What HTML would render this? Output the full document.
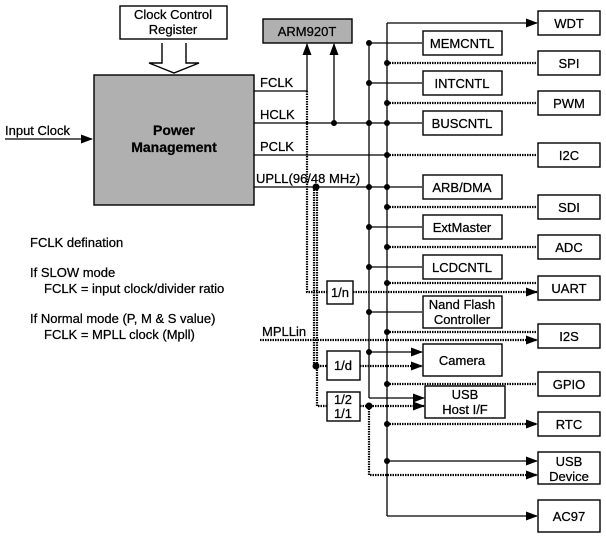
<!DOCTYPE html>
<html><head><style>body{margin:0;background:#fff}svg{display:block}text{font-family:"Liberation Sans",Arial,sans-serif;font-size:13px;fill:#000;stroke:#000;stroke-width:0.25}</style></head><body>
<svg width="606" height="541" viewBox="0 0 606 541">
<defs><marker id="a" markerWidth="12" markerHeight="10" refX="11" refY="5" orient="auto" markerUnits="userSpaceOnUse"><path d="M0,0.5L12,5L0,9.5z" fill="#000"/></marker></defs>
<g stroke="#000" fill="#fff" stroke-width="1.4">
<rect x="120" y="6" width="107" height="33"/>
<rect x="94" y="75" width="160" height="130" fill="#b0b0b0"/>
<rect x="263" y="19" width="89" height="24" fill="#b0b0b0"/>
<path d="M162,43V63H149L174,73L199,63H186V43" fill="#fff"/>
<rect x="538" y="11" width="62" height="24"/><rect x="538" y="51" width="62" height="24"/><rect x="538" y="91" width="62" height="24"/><rect x="538" y="143" width="62" height="24"/><rect x="538" y="195" width="62" height="24"/><rect x="538" y="235" width="62" height="24"/><rect x="538" y="276" width="62" height="24"/><rect x="538" y="324" width="62" height="24"/><rect x="538" y="372" width="62" height="24"/><rect x="538" y="412" width="62" height="24"/><rect x="538" y="452" width="62" height="32"/><rect x="538" y="500" width="62" height="32"/>
<rect x="423" y="31" width="79" height="24"/><rect x="423" y="71" width="79" height="24"/><rect x="423" y="111" width="79" height="24"/><rect x="423" y="175" width="79" height="24"/><rect x="423" y="215" width="79" height="24"/><rect x="423" y="255" width="79" height="24"/><rect x="423" y="296" width="79" height="32"/><rect x="423" y="344" width="79" height="32"/><rect x="425" y="386" width="80" height="32"/>
<rect x="327" y="281" width="26" height="23"/><rect x="327" y="351" width="33" height="29"/><rect x="327" y="392" width="33" height="29"/>
</g>
<g stroke="#000" stroke-width="1.3" fill="none">
<path d="M5,139H92" marker-end="url(#a)"/>
<path d="M254,91H307M254,123H369M254,155H387M254,187H369"/>
<path d="M307,91V44" marker-end="url(#a)"/><path d="M334,123V44" marker-end="url(#a)"/>
<path d="M369,43V398"/><path d="M387,23V516"/>
<path d="M387,23H537" marker-end="url(#a)"/><path d="M387,516H537" marker-end="url(#a)"/><path d="M387,461H537" marker-end="url(#a)"/>
<path d="M369,43H422M369,83H422M369,123H422M369,187H422M369,227H422M369,267H422M369,312H422M369,352H422" marker-end="url(#a)"/>
<path d="M369,398H424" marker-end="url(#a)"/>
</g>
<g stroke="#000" stroke-width="2.2" stroke-dasharray="1.5 1" fill="none">
<path d="M387,63H537M387,103H537M387,155H537M387,207H537M387,247H537M387,283H537M387,332H537M387,384H537M387,424H537" marker-end="url(#a)"/>
<path d="M307,91V292H327"/><path d="M353,292H537" marker-end="url(#a)"/>
<path d="M260,340H537" marker-end="url(#a)"/>
<path d="M314,187V366H327M317,187V406H327"/>
<path d="M360,366H422" marker-end="url(#a)"/>
<path d="M360,406H424" marker-end="url(#a)"/>
<path d="M369,406V475H537" marker-end="url(#a)"/>
</g>
<g fill="#000">
<circle cx="334" cy="123" r="3"/><circle cx="316" cy="187" r="3.5"/><circle cx="316" cy="366" r="3.5"/><circle cx="369" cy="406" r="3.5"/>
<circle cx="369" cy="43" r="3"/><circle cx="369" cy="83" r="3"/><circle cx="369" cy="123" r="3"/><circle cx="369" cy="187" r="3"/><circle cx="369" cy="227" r="3"/><circle cx="369" cy="267" r="3"/><circle cx="369" cy="312" r="3"/><circle cx="369" cy="352" r="3"/>
<circle cx="387" cy="63" r="3"/><circle cx="387" cy="103" r="3"/><circle cx="387" cy="123" r="3"/><circle cx="387" cy="155" r="3"/><circle cx="387" cy="187" r="3"/><circle cx="387" cy="207" r="3"/><circle cx="387" cy="247" r="3"/><circle cx="387" cy="283" r="3"/><circle cx="387" cy="332" r="3"/><circle cx="387" cy="384" r="3"/><circle cx="387" cy="424" r="3"/><circle cx="387" cy="461" r="3"/>
</g>
<g text-anchor="middle">
<text x="173" y="19">Clock Control</text><text x="173" y="34">Register</text>
<text x="174" y="135" font-weight="bold" style="font-size:14px">Power</text><text x="174" y="152" font-weight="bold" style="font-size:14px">Management</text>
<text x="307" y="36">ARM920T</text>
<text x="569" y="28">WDT</text><text x="569" y="68">SPI</text><text x="569" y="108">PWM</text><text x="569" y="160">I2C</text><text x="569" y="212">SDI</text><text x="569" y="252">ADC</text><text x="569" y="293">UART</text><text x="569" y="341">I2S</text><text x="569" y="389">GPIO</text><text x="569" y="429">RTC</text><text x="569" y="466">USB</text><text x="569" y="481">Device</text><text x="569" y="521">AC97</text>
<text x="462" y="48">MEMCNTL</text><text x="462" y="88">INTCNTL</text><text x="462" y="128">BUSCNTL</text><text x="462" y="192">ARB/DMA</text><text x="462" y="232">ExtMaster</text><text x="462" y="272">LCDCNTL</text><text x="462" y="309">Nand Flash</text><text x="462" y="324">Controller</text><text x="462" y="365">Camera</text><text x="465" y="399">USB</text><text x="465" y="414">Host I/F</text>
<text x="340" y="297">1/n</text><text x="343" y="370">1/d</text><text x="343" y="404">1/2</text><text x="343" y="418">1/1</text>
</g>
<text x="5" y="135">Input Clock</text>
<text x="260" y="87">FCLK</text><text x="260" y="119">HCLK</text><text x="260" y="151">PCLK</text><text x="256" y="183">UPLL(96/48 MHz)</text>
<text x="262" y="336">MPLLin</text>
<text x="30" y="247">FCLK defination</text>
<text x="30" y="277">If SLOW mode</text><text x="44" y="293">FCLK = input clock/divider ratio</text>
<text x="30" y="323">If Normal mode (P, M &amp; S value)</text><text x="44" y="339">FCLK = MPLL clock (Mpll)</text>
</svg></body></html>
